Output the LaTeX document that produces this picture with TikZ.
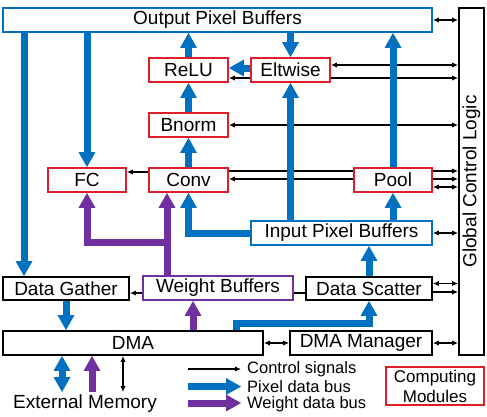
\documentclass[tikz,border=0pt]{standalone}
\usepackage{fontspec}
\setmainfont{Liberation Sans}
\usepackage{tikz}
\usetikzlibrary{arrows.meta,calc,backgrounds}

\definecolor{busblue}{RGB}{0,112,192}
\definecolor{buspurple}{RGB}{112,48,160}
\definecolor{modred}{RGB}{222,30,40}

\tikzset{
  blk/.style={draw, line width=1.9pt, fill=white, minimum height=24pt, inner sep=0pt,
    font=\fontsize{19}{22}\selectfont},
  modbox/.style={blk, draw=modred},
  bufbox/.style={blk, draw=busblue},
  ctlbox/.style={blk, draw=black},
  wbufbox/.style={blk, draw=buspurple},
  legtext/.style={inner xsep=6pt, inner ysep=0pt, font=\fontsize{16.5}{18}\selectfont},
  ctrl/.style={line width=1.3pt, -{Latex[length=6pt,width=5.5pt]}},
  ctrlb/.style={line width=1.3pt, {Latex[length=6pt,width=5.5pt]}-{Latex[length=6pt,width=5.5pt]}},
  pix/.style={busblue, line width=7pt, -{Triangle[length=15pt,width=17pt,line width=0pt]}},
  wgt/.style={buspurple, line width=7pt, -{Triangle[length=15pt,width=17pt,line width=0pt]}},
}

\begin{document}
\begin{tikzpicture}[x=1pt,y=-1pt]
  \useasboundingbox (0,0) rectangle (487,416);
  % buffers, control logic
  \node[bufbox, minimum width=429pt] (opb) at (217.5,20) {Output Pixel Buffers};
  \node[ctlbox, minimum width=25pt, minimum height=347pt] (gcl) at (471.5,181.5) {};
  \node[rotate=90, font=\fontsize{19}{22}\selectfont] (gcltext) at (gcl.center) {Global Control Logic};
  % computing modules
  \node[modbox, minimum width=79pt] (relu) at (188.5,70) {ReLU};
  \node[modbox, minimum width=79pt] (elt) at (290.5,70) {Eltwise};
  \node[modbox, minimum width=79pt] (bnorm) at (188.5,125) {Bnorm};
  \node[modbox, minimum width=78pt] (fc) at (87,180) {FC};
  \node[modbox, minimum width=79pt] (conv) at (188.5,180) {Conv};
  \node[modbox, minimum width=78pt] (pool) at (393,180) {Pool};
  \node[bufbox, minimum width=181pt] (ipb) at (341.5,233) {Input Pixel Buffers};
  % data movement
  \node[ctlbox, minimum width=126pt, minimum height=23pt] (gather) at (66,288.5) {Data Gather};
  \node[wbufbox, minimum width=150pt] (wbuf) at (218,288) {Weight Buffers};
  \node[ctlbox, minimum width=126pt, minimum height=23pt] (scatter) at (369,288.5) {Data Scatter};
  \node[ctlbox, minimum width=260pt] (dma) at (133,343) {DMA};
  \node[ctlbox, minimum width=142pt] (dmam) at (361,343) {DMA Manager};
  \node[font=\fontsize{19}{22}\selectfont] (extmem) at (85,404) {External Memory};

  % helper points
  \coordinate (xg) at (24,0);     % bus down to gather
  \coordinate (xw) at (167,0);    % weight riser
  \coordinate (wj) at (167,242);  % weight branch
  \coordinate (xdw) at (193,0);   % dma to weights
  \coordinate (dj) at (236,323);  % dma to scatter bend
  \coordinate (em1) at (62,392);
  \coordinate (em2) at (92,392);
  \coordinate (em3) at (123,392);

  % control signals
  \foreach \n in {opb,bnorm,ipb,dmam}
    \draw[ctrlb] (\n.east) -- (\n.east -| gcl.west);
  \draw[ctrlb] ($(elt.east)+(0,-5)$) -- ($(elt.east -| gcl.west)+(0,-5)$);
  \draw[ctrlb] ($(pool.east)+(0,7)$) -- ($(pool.east -| gcl.west)+(0,7)$);
  \draw[ctrlb] ($(scatter.east)+(0,-5)$) -- ($(scatter.east -| gcl.west)+(0,-5)$);
  \draw[ctrl] ($(scatter.east)+(0,3.5)$) -- ($(scatter.east -| gcl.west)+(0,3.5)$);
  \draw[ctrl] ($(conv.west)+(0,-8)$) -- ($(conv.west -| fc.east)+(0,-8)$);
  \draw[ctrlb] (dma.east) -- (dmam.west);
  \draw[ctrlb] (dma.south -| em3) -- (em3);
  \begin{scope}[on background layer]
    \draw[ctrlb] ($(relu.east)+(0,8)$) -- ($(relu.east -| gcl.west)+(0,8)$);
    \draw[ctrl] ($(conv.east)+(0,-9)$) -- ($(conv.east -| gcl.west)+(0,-9)$);
    \draw[ctrlb] ($(conv.east)+(0,-1)$) -- ($(conv.east -| gcl.west)+(0,-1)$);
    \draw[ctrl] ($(scatter.west)+(0,4.5)$) -- ($(scatter.west -| gather.east)+(0,4.5)$);
  \end{scope}

  % pixel data bus
  \draw[pix] (opb.south -| xg) -- (gather.north -| xg);
  \draw[pix] (opb.south -| fc.north) -- (fc.north);
  \draw[pix] (opb.south -| elt.north) -- (elt.north);
  \draw[pix] (relu.north) -- (opb.south -| relu.north);
  \draw[pix] (pool.north) -- (opb.south -| pool.north);
  \draw[pix] ($(elt.west)+(0,-2)$) -- ($(elt.west -| relu.east)+(0,-2)$);
  \draw[pix] (bnorm.north) -- (relu.south);
  \draw[pix] (conv.north) -- (bnorm.south);
  \draw[pix] (ipb.west) -| (conv.south);
  \draw[pix] (ipb.north -| elt.south) -- (elt.south);
  \draw[pix] (ipb.north -| pool.south) -- (pool.south);
  \draw[pix] (scatter.north) -- (ipb.south -| scatter.north);
  \draw[pix] (gather.south) -- (dma.north -| gather.south);
  \draw[pix] (dma.north -| dj) -- (dj) -| (scatter.south);
  \draw[pix, {Triangle[length=15pt,width=17pt,line width=0pt]}-{Triangle[length=15pt,width=17pt,line width=0pt]}]
    (dma.south -| em1) -- (em1);

  % weight data bus
  \draw[wgt] (wbuf.north -| xw) -- (conv.south -| xw);
  \draw[wgt] (wj) -| (fc.south);
  \draw[wgt] (dma.north -| xdw) -- (wbuf.south -| xdw);
  \draw[wgt] (em2) -- (dma.south -| em2);

  % legend
  \coordinate (lc) at (188,369);
  \coordinate (lp) at (188,386.5);
  \coordinate (lw) at (188,403);
  \node[legtext, anchor=west] (tc) at (241,369.5) {Control signals};
  \node[legtext, anchor=west] (tp) at (241,386.5) {Pixel data bus};
  \node[legtext, anchor=west] (tw) at (241,404) {Weight data bus};
  \draw[ctrl] (lc) -- (lc -| tc.west);
  \draw[pix] (lp) -- (lp -| tp.west);
  \draw[wgt] (lw) -- (lw -| tw.west);
  \node[modbox, minimum width=98pt, minimum height=38pt, align=center,
    font=\fontsize{17}{20}\selectfont] (legmod) at (435,386) {Computing\\Modules};
\end{tikzpicture}
\end{document}
